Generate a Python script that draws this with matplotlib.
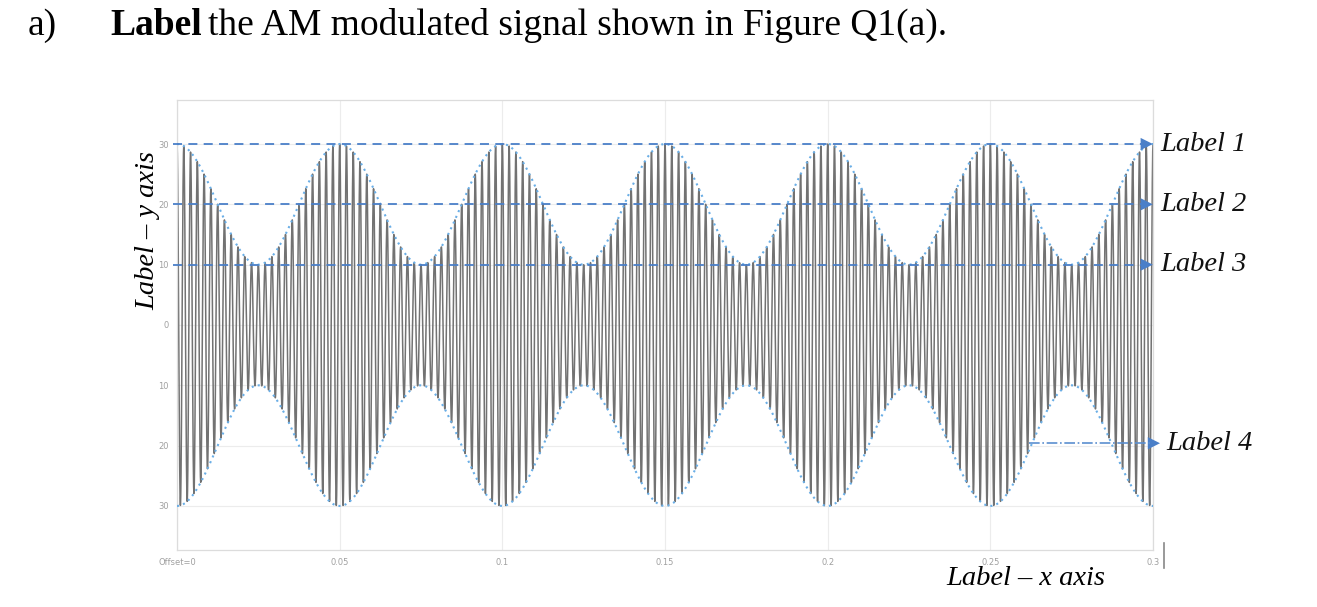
import numpy as np
import matplotlib
matplotlib.use("Agg")
from matplotlib import pyplot as plt

# AM signal parameters
env_max = 30          # envelope peak
env_min = 10          # envelope trough
mod_freq = 20         # envelope period 0.05 s
carrier_freq = 480    # ~24 carrier cycles per envelope period
t_end = 0.3

# reference levels pointed at by the labels
label_levels = [30, 20, 10]
label_names = ["Label 1", "Label 2", "Label 3"]
label4_level = -19.6
label4_start = 0.262

x_ticks = [0, 0.05, 0.1, 0.15, 0.2, 0.25, 0.3]
x_tick_labels = ["Offset=0", "0.05", "0.1", "0.15", "0.2", "0.25", "0.3"]
y_ticks = [30, 20, 10, 0, -10, -20, -30]
y_tick_labels = ["30", "20", "10", "0", "10", "20", "30"]

serif = "Liberation Serif"
blue = "#4a7fc8"
env_blue = "#6aaee6"
label_size = 20.5


def main():
    fig = plt.figure(figsize=(13.17, 6.07), dpi=100)
    ax = fig.add_axes([0.1344, 0.0939, 0.7411, 0.7414])

    t = np.linspace(0, t_end, 60001)
    mid = (env_max + env_min) / 2
    depth = (env_max - env_min) / 2
    envelope = mid + depth * np.cos(2 * np.pi * mod_freq * t)
    signal = envelope * np.cos(2 * np.pi * carrier_freq * t)

    ax.plot(t, signal, color="#727272", lw=1.1, zorder=2)
    ax.plot(t, envelope, color=env_blue, lw=1.5, ls=(0, (1, 2)), zorder=3)
    ax.plot(t, -envelope, color=env_blue, lw=1.5, ls=(0, (1, 2)), zorder=3)

    ax.set_xlim(0, t_end)
    ax.set_ylim(-37.3, 37.3)
    ax.set_xticks(x_ticks)
    ax.set_xticklabels(x_tick_labels)
    ax.set_yticks(y_ticks)
    ax.set_yticklabels(y_tick_labels)
    ax.tick_params(length=0, labelsize=6, labelcolor="#a0a0a0", pad=6)
    ax.grid(True, color="#ececec", lw=0.8, zorder=0)
    for sp in ax.spines.values():
        sp.set_color("#dcdcdc")
        sp.set_linewidth(0.9)

    # dashed reference lines with arrows
    for lvl, name in zip(label_levels, label_names):
        ax.plot([-0.0012, 0.2975], [lvl, lvl], color=blue, lw=1.3,
                ls=(0, (5, 3.5)), zorder=4, clip_on=False)
        ax.annotate("", xy=(0.3008, lvl), xytext=(0.2960, lvl),
                    arrowprops=dict(arrowstyle="-|>", color=blue, lw=0,
                                    mutation_scale=22), annotation_clip=False)
        ax.text(0.3022, lvl, name, fontsize=label_size, family=serif,
                style="italic", va="center", ha="left", color="#111111")

    ax.plot([label4_start, 0.2995], [label4_level, label4_level],
            color="#5b8fd0", lw=1.2, ls="-.", zorder=4, clip_on=False)
    ax.annotate("", xy=(0.3030, label4_level), xytext=(0.2982, label4_level),
                arrowprops=dict(arrowstyle="-|>", color=blue, lw=0,
                                mutation_scale=22), annotation_clip=False)
    ax.text(0.3041, label4_level, "Label 4", fontsize=label_size, family=serif,
            style="italic", va="center", ha="left", color="#111111")

    # axis labels placed as in the question sheet
    fig.text(0.112, 0.62, "Label \u2013 y axis", fontsize=label_size,
             family=serif, style="italic", rotation=90, va="center",
             ha="center")
    fig.text(0.779, 0.047, "Label \u2013 x axis", fontsize=label_size,
             family=serif, style="italic", va="center", ha="center")
    fig.add_artist(plt.Line2D([0.8835, 0.8835], [0.065, 0.105],
                              color="#888888", lw=1.2))

    # question heading: bold word followed by the rest of the sentence
    fig.text(0.021, 0.942, "a)", fontsize=27, family=serif, va="baseline")
    bold = fig.text(0.0835, 0.942, "Label", fontsize=27, family=serif,
                    weight="bold", va="baseline")
    fig.canvas.draw()
    bb = bold.get_window_extent().transformed(fig.transFigure.inverted())
    fig.text(bb.x1 + 0.005, 0.942,
             "the AM modulated signal shown in Figure Q1(a).",
             fontsize=27, family=serif, va="baseline")

    fig.savefig("out.png", dpi=100)


if __name__ == "__main__":
    main()
